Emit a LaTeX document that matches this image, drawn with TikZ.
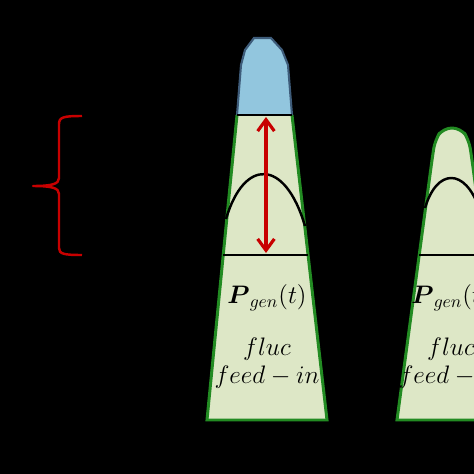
\documentclass[tikz,border=0pt]{standalone}
\usepackage{amsmath}
\usetikzlibrary{arrows.meta,calc}
\definecolor{leafgreen}{RGB}{221,231,198}
\definecolor{edgegreen}{RGB}{34,139,34}
\definecolor{capblue}{RGB}{146,198,222}
\definecolor{capedge}{RGB}{62,92,122}
\definecolor{powerred}{RGB}{200,0,0}
\begin{document}
\begin{tikzpicture}
	[x=0.02cm,y=-0.02cm,
	toweredge/.style={draw=edgegreen,line width=1.7pt,fill=leafgreen},
	capshape/.style={draw=capedge,line width=1.2pt,fill=capblue},
	level/.style={draw=black,line width=0.9pt},
	profile/.style={draw=black,line width=1.4pt},
	powerarrow/.style={draw=powerred,line width=1.8pt,{Straight Barb[length=6.5pt,width=9.5pt]}-{Straight Barb[length=6.5pt,width=9.5pt]}},
	bracket/.style={draw=powerred,line width=1.4pt,line join=round},
	txt/.style={font=\fontsize{14}{16}\selectfont,inner sep=0pt}]
	\useasboundingbox (0,0) rectangle (474,474);
	\fill[black] (0,0) rectangle (474,474);
	\clip (0,0) rectangle (474,474);
	% left tower
	\coordinate (lbl) at (207,420);
	\coordinate (lbr) at (327,420);
	\coordinate (ltl) at (237,115);
	\coordinate (ltr) at (292,115);
	\fill[leafgreen] (ltl) -- (lbl) -- (lbr) -- (ltr) -- cycle;
	\draw[toweredge,fill=none] (ltl) -- (lbl) -- (lbr) -- (ltr);
	\draw[capshape] (ltl) -- (241,65) -- (245,50) -- (254,38) -- (271,38) -- (282,50) -- (288,65) -- (ltr);
	\draw[level] (ltl) -- (ltr);
	\draw[level] ($(lbl)!0.541!(ltl)$) coordinate (lml) -- ($(lbr)!0.541!(ltr)$) coordinate (lmr);
	\draw[profile] (226,219) .. controls (244,158) and (285,158) .. (305,226);
	\coordinate (arrTop) at (266,117);
	\coordinate (arrBot) at (266,253);
	\draw[powerarrow] (arrTop) -- (arrBot);
	\node[txt,name=pgenA] at (267,298) {$\boldsymbol{P}_{gen}(t)$};
	\node[txt,name=flucA] at (267,349) {$fluc$};
	\node[txt,name=feedA] at (267,377) {$feed-in$};
	% right tower
	\draw[toweredge] (397,420) [rounded corners=5pt] -- (432,160) -- (435,140) -- (443,128) -- (461,128) -- (469,140) -- (472,160) [sharp corners] -- (507,420) -- cycle;
	\draw[level] (419,255) coordinate (rml) -- (485,255) coordinate (rmr);
	\draw[profile] (425,208) .. controls (437,168) and (465,168) .. (479,208);
	\node[txt,name=pgenB] at (451,298) {$\boldsymbol{P}_{gen}(t)$};
	\node[txt,name=flucB] at (451,349) {$fluc$};
	\node[txt,name=feedB] at (451,377) {$feed-in$};
	% brace
	\draw[bracket] (82,116) .. controls (64,116) and (59,117) .. (59,124) -- (59,178)
		.. controls (59,184) and (52,186) .. (33,186)
		.. controls (52,186) and (59,188) .. (59,194) -- (59,248)
		.. controls (59,254) and (64,255) .. (82,255);
\end{tikzpicture}
\end{document}
